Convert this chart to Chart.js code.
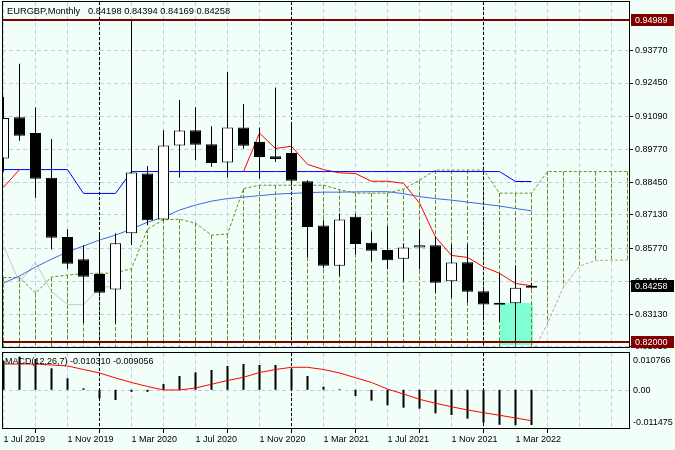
<!DOCTYPE html>
<html>
<head>
<meta charset="utf-8">
<title>EURGBP Monthly</title>
<script src="https://cdn.jsdelivr.net/npm/chart.js@4.4.1/dist/chart.umd.min.js"></script>
<style>
  html, body { margin: 0; padding: 0; background: #f2fff8; }
  #wrap { position: relative; width: 675px; height: 450px; overflow: hidden; }
  canvas { position: absolute; left: 0; }
  #priceChart { top: 0; }
  #macdChart { top: 350px; }
</style>
</head>
<body>
<div id="wrap">
  <canvas id="priceChart" width="675" height="350"></canvas>
  <canvas id="macdChart" width="675" height="100"></canvas>
</div>
<script>
// ---- data (monthly bars, Jul 2019 .. Apr 2022) ----
const symbolTitle = 'EURGBP,Monthly';
const lastBar = [0.84198, 0.84394, 0.84169, 0.84258];

const opens = [0.8941, 0.9107, 0.9043, 0.8863, 0.8624, 0.8535, 0.8475, 0.8413, 0.8639, 0.8880,
  0.8695, 0.8993, 0.9055, 0.8998, 0.8925, 0.9066, 0.9007, 0.8950, 0.8963, 0.8849,
  0.8671, 0.8508, 0.8706, 0.8601, 0.8572, 0.8537, 0.8582, 0.8591, 0.8446, 0.8523,
  0.8406, 0.8358, 0.8357, 0.84198];
const highs = [0.9189, 0.9323, 0.9146, 0.9019, 0.8656, 0.8591, 0.8639, 0.8639, 0.94989, 0.8910,
  0.9055, 0.9176, 0.9147, 0.9071, 0.9290, 0.9160, 0.9066, 0.9227, 0.9086, 0.8853,
  0.8692, 0.8719, 0.8717, 0.8645, 0.8668, 0.8598, 0.8656, 0.8625, 0.8595, 0.8595,
  0.8415, 0.8478, 0.8509, 0.84394];
const lows = [0.8887, 0.9012, 0.8782, 0.8574, 0.8496, 0.8278, 0.8385, 0.8276, 0.8592, 0.8672,
  0.8692, 0.8864, 0.8934, 0.8907, 0.8864, 0.8980, 0.8859, 0.8927, 0.8833, 0.8542,
  0.8499, 0.8467, 0.8555, 0.8527, 0.8495, 0.8447, 0.8494, 0.8400, 0.8379, 0.8359,
  0.8303, 0.8283, 0.8196, 0.84169];
const closes = [0.9104, 0.9032, 0.8859, 0.8621, 0.8516, 0.8464, 0.8400, 0.8599, 0.8884, 0.8692,
  0.8993, 0.9054, 0.8996, 0.8923, 0.9066, 0.8992, 0.8947, 0.8939, 0.8851, 0.8665,
  0.8508, 0.8695, 0.8596, 0.8569, 0.8531, 0.8582, 0.8591, 0.8440, 0.8522, 0.8404,
  0.8352, 0.8351, 0.8420, 0.84258];

// Ichimoku + moving average (null = hidden under the Kijun line)
const tenkan = [0.8825, 0.8896, null, null, null, null, null, null, null, null,
  null, null, null, null, null, 0.8888, 0.9043, 0.8981, 0.8990, 0.8917,
  0.8896, 0.8883, 0.8880, 0.8849, 0.8849, 0.8841, 0.8761, 0.8624, 0.8550, 0.8542,
  0.8504, 0.8478, 0.8437, 0.8428];
const kijun = [0.8896, 0.8896, 0.8896, 0.8896, 0.8896, 0.8800, 0.8800, 0.8800, 0.8888, 0.8888,
  0.8888, 0.8888, 0.8888, 0.8888, 0.8888, 0.8888, 0.8888, 0.8888, 0.8888, 0.8888,
  0.8888, 0.8888, 0.8888, 0.8888, 0.8888, 0.8888, 0.8888, 0.8888, 0.8888, 0.8888,
  0.8888, 0.8888, 0.8848, 0.8848];
const movingAvg = [0.8439, 0.8467, 0.8503, 0.8535, 0.8564, 0.8588, 0.8612, 0.8632, 0.8656, 0.8684,
  0.8704, 0.8733, 0.8753, 0.8769, 0.8779, 0.8785, 0.8791, 0.8797, 0.8800, 0.8803,
  0.8805, 0.8805, 0.8806, 0.8807, 0.8807, 0.8799, 0.8787, 0.8779, 0.8773, 0.8765,
  0.8757, 0.8749, 0.8739, 0.8730];
const spanA = [0.8461, 0.8461, 0.8398, 0.8463, 0.8471, 0.8477, 0.8478, 0.8479, 0.8497, 0.8656,
  0.8694, 0.8696, 0.8680, 0.8632, 0.8636, 0.8819, 0.8833, 0.8833, 0.8833, 0.8833,
  0.8833, 0.8815, 0.8801, 0.8801, 0.8801, 0.8817, 0.8853, 0.8894, 0.8894, 0.8894,
  0.8894, 0.8801, 0.8801, 0.8801, 0.8888, 0.8888, 0.8888, 0.8888, 0.8888, 0.8888];
const spanB = [0.8100, 0.8100, 0.8100, 0.8100, 0.8100, 0.8100, 0.8100, 0.8100, 0.8100, 0.8100,
  0.8100, 0.8100, 0.8100, 0.8100, 0.8100, 0.8100, 0.8100, 0.8100, 0.8100, 0.8100,
  0.8100, 0.8100, 0.8100, 0.8100, 0.8100, 0.8100, 0.8100, 0.8100, 0.8100, 0.8100,
  0.8100, 0.8100, 0.8100, 0.8150, 0.8275, 0.8423, 0.8507, 0.8529, 0.8531, 0.8531];
const chikou = [0.8590, 0.8440, 0.8522, 0.8404, 0.8352, 0.8351, 0.8420, 0.8426];

// MACD(12,26,7)
const macdHist = [0.00852, 0.00969, 0.00901, 0.00629, 0.00337, 0.00044, -0.00249, -0.00299, -0.0006, -0.0006,
  0.0017, 0.00404, 0.00512, 0.0058, 0.00697, 0.00755, 0.00726, 0.00726, 0.00617, 0.00404,
  0.00091, 0.0002, -0.00181, -0.00319, -0.00454, -0.00524, -0.00553, -0.00688, -0.00737, -0.00846,
  -0.00963, -0.01025, -0.01035, -0.01031];
const macdSignal = [0.00755, 0.00755, 0.00755, 0.00726, 0.00697, 0.00594, 0.00492, 0.00345, 0.00214, 0.00097,
  -0.00006, -0.00006, 0.00053, 0.00161, 0.00272, 0.00366, 0.00506, 0.00594, 0.00658, 0.00658,
  0.00594, 0.00492, 0.00354, 0.00214, 0.0002, -0.00123, -0.00278, -0.00395, -0.00495, -0.00591,
  -0.0067, -0.00746, -0.00825, -0.009056];

const priceTicks = [0.9377, 0.9245, 0.9109, 0.8977, 0.8845, 0.8713, 0.8577, 0.8445, 0.8313, 0.8181];
const macdTicks = [0.010766, 0, -0.011475];
const dateTickIdx = [0, 4, 8, 12, 16, 20, 24, 28, 32];
const dateLabels = ['1 Jul 2019', '1 Nov 2019', '1 Mar 2020', '1 Jul 2020', '1 Nov 2020',
  '1 Mar 2021', '1 Jul 2021', '1 Nov 2021', '1 Mar 2022'];
const yearStartIdx = [6, 18, 30];

const levelHigh = 0.94989;
const levelLow = 0.82000;
const zoneIdx = [31, 33];
const zonePrice = [0.8359, 0.8189];

// ---- look ----
const BG = '#f2fff8';
const GRID = '#c6cbe6';
const OLIVE = '#6b8e23';
const ROSY = '#c49a9a';
const MAROON = '#800000';
const FONT = '"Liberation Sans", Arial, sans-serif';

const xMin = -0.09375, xMax = 39.15625;
const priceMin = 0.81769, priceMax = 0.95715;

Chart.defaults.font.family = FONT;
Chart.defaults.font.size = 9;
Chart.defaults.color = '#000';

const series = arr => arr.map((v, i) => ({ x: i, y: v }));

function lineSet(arr, color, order, dash) {
  return {
    type: 'line', data: series(arr), borderColor: color, borderWidth: 1,
    borderDash: dash || [], pointRadius: 0, tension: 0, fill: false, spanGaps: false, order: order
  };
}

function vline(ctx, x, top, bottom) {
  const px = Math.floor(x) + 0.5;
  ctx.beginPath();
  ctx.moveTo(px, top);
  ctx.lineTo(px, bottom);
  ctx.stroke();
}

function clipTo(ctx, a) {
  ctx.beginPath();
  ctx.rect(a.left, a.top, a.width, a.height);
  ctx.clip();
}

const pricePlugin = {
  id: 'mtPrice',
  beforeDraw(chart) {
    const { ctx, scales: { x, y } } = chart;
    ctx.save();
    ctx.fillStyle = BG;
    ctx.fillRect(0, 0, chart.width, chart.height);
    const x0 = x.getPixelForValue(zoneIdx[0]), x1 = x.getPixelForValue(zoneIdx[1]);
    const y0 = y.getPixelForValue(zonePrice[0]), y1 = y.getPixelForValue(zonePrice[1]);
    ctx.fillStyle = '#7fffd4';
    ctx.fillRect(Math.round(x0), Math.round(y0), Math.round(x1 - x0) + 1, Math.round(y1 - y0));
    ctx.restore();
  },
  beforeDatasetsDraw(chart) {
    const { ctx, chartArea: a, scales: { x, y } } = chart;
    ctx.save();
    clipTo(ctx, a);
    ctx.lineWidth = 1;
    // vertical grid every two months
    ctx.strokeStyle = GRID;
    ctx.setLineDash([4, 3]);
    for (let i = 0; i <= xMax; i += 2) vline(ctx, x.getPixelForValue(i), a.top, a.bottom);
    // cloud hatch
    ctx.strokeStyle = OLIVE;
    ctx.setLineDash([4, 2]);
    spanA.forEach((v, i) => {
      const ya = y.getPixelForValue(v), yb = y.getPixelForValue(spanB[i]);
      vline(ctx, x.getPixelForValue(i), Math.min(ya, yb), Math.max(ya, yb));
    });
    // year separators
    ctx.strokeStyle = '#000';
    ctx.setLineDash([3, 2]);
    yearStartIdx.forEach(i => vline(ctx, x.getPixelForValue(i), a.top, a.bottom));
    ctx.restore();
  },
  afterDraw(chart) {
    const { ctx, chartArea: a, scales: { y } } = chart;
    ctx.save();
    // horizontal levels
    ctx.fillStyle = MAROON;
    [levelHigh, levelLow].forEach(v => {
      const py = Math.round(y.getPixelForValue(v));
      ctx.fillRect(a.left, py - 1, a.width, 2);
    });
    // frame
    ctx.strokeStyle = '#000';
    ctx.lineWidth = 1;
    ctx.strokeRect(a.left + 0.5, a.top - 0.5, a.width - 1, a.height);
    // header
    ctx.font = '9.3px ' + FONT;
    ctx.fillStyle = '#000';
    ctx.textBaseline = 'middle';
    ctx.textAlign = 'left';
    ctx.fillText(symbolTitle + '   ' + lastBar.map(v => v.toFixed(5)).join(' '), 7, 11);
    // price boxes on the axis
    ctx.font = '9px ' + FONT;
    [[levelHigh, MAROON], [lastBar[3], '#000000'], [levelLow, MAROON]].forEach(([v, c]) => {
      const py = Math.round(y.getPixelForValue(v));
      ctx.fillStyle = c;
      ctx.fillRect(a.right + 1, py - 6, 43, 12);
      ctx.fillStyle = '#ffffff';
      ctx.fillText(v.toFixed(5), a.right + 5, py + 0.5);
    });
    ctx.restore();
  }
};

const macdPlugin = {
  id: 'mtMacd',
  beforeDraw(chart) {
    const { ctx } = chart;
    ctx.save();
    ctx.fillStyle = BG;
    ctx.fillRect(0, 0, chart.width, chart.height);
    ctx.restore();
  },
  beforeDatasetsDraw(chart) {
    const { ctx, chartArea: a, scales: { x, y } } = chart;
    ctx.save();
    clipTo(ctx, a);
    ctx.lineWidth = 1;
    ctx.strokeStyle = GRID;
    ctx.setLineDash([4, 3]);
    for (let i = 0; i <= xMax; i += 2) vline(ctx, x.getPixelForValue(i), a.top, a.bottom);
    const y0 = Math.round(y.getPixelForValue(0)) + 0.5;
    ctx.beginPath();
    ctx.moveTo(a.left, y0);
    ctx.lineTo(a.right, y0);
    ctx.stroke();
    ctx.strokeStyle = '#000';
    ctx.setLineDash([3, 2]);
    yearStartIdx.forEach(i => vline(ctx, x.getPixelForValue(i), a.top, a.bottom));
    ctx.restore();
  },
  afterDraw(chart) {
    const { ctx, chartArea: a, scales: { y } } = chart;
    ctx.save();
    ctx.strokeStyle = '#000';
    ctx.lineWidth = 1;
    ctx.strokeRect(a.left + 0.5, a.top - 0.5, a.width - 1, a.height);
    ctx.font = '9px ' + FONT;
    ctx.fillStyle = '#000';
    ctx.textBaseline = 'middle';
    const last = macdHist.length - 1;
    ctx.fillText('MACD(12,26,7) ' + macdHist[last].toFixed(6) + ' ' + macdSignal[last].toFixed(6), 5, 12);
    macdTicks.forEach(v => {
      let py = y.getPixelForValue(v);
      py = Math.min(Math.max(py, a.top + 7), a.bottom - 7);
      ctx.fillText(v === 0 ? '0.00' : v.toFixed(6), a.right + 3, py + 0.5);
    });
    ctx.restore();
  }
};

new Chart(document.getElementById('priceChart'), {
  type: 'bar',
  data: {
    datasets: [
      {
        label: 'Bodies',
        data: opens.map((o, i) => ({ x: i, y: [o, closes[i]] })),
        backgroundColor: closes.map((c, i) => c >= opens[i] ? '#ffffff' : '#000000'),
        borderColor: '#000000', borderWidth: 1, borderSkipped: false,
        barThickness: 11, minBarLength: 2, inflateAmount: 0, grouped: false, clip: 0, order: 0
      },
      {
        label: 'Wicks',
        data: lows.map((l, i) => ({ x: i, y: [l, highs[i]] })),
        backgroundColor: '#000000', borderWidth: 0,
        barThickness: 1, inflateAmount: 0, grouped: false, clip: 0, order: 1
      },
      lineSet(kijun, '#0000ff', 2),
      lineSet(tenkan, '#ff0000', 3),
      lineSet(movingAvg, '#4169e1', 4),
      lineSet(chikou, '#c8c8c8', 5),
      lineSet(spanA, OLIVE, 6, [3, 2]),
      lineSet(spanB, ROSY, 7, [3, 2])
    ]
  },
  options: {
    responsive: false,
    animation: false,
    devicePixelRatio: 1,
    events: [],
    layout: { padding: { left: 2, top: 2, right: 0, bottom: 2 } },
    plugins: { legend: { display: false }, tooltip: { enabled: false } },
    scales: {
      x: { type: 'linear', min: xMin, max: xMax, offset: false, display: false },
      y: {
        type: 'linear', position: 'right', min: priceMin, max: priceMax,
        afterBuildTicks: s => { s.ticks = priceTicks.map(v => ({ value: v })); },
        afterFit: s => { s.width = 45; s.paddingTop = 0; s.paddingBottom = 0; },
        ticks: { autoSkip: false, padding: 2, callback: v => v.toFixed(5) },
        grid: { color: GRID, tickColor: '#000', tickLength: 3 },
        border: { display: false, dash: [4, 3] }
      }
    }
  },
  plugins: [pricePlugin]
});

new Chart(document.getElementById('macdChart'), {
  type: 'bar',
  data: {
    datasets: [
      {
        type: 'line', label: 'Signal', data: series(macdSignal),
        borderColor: '#ff0000', borderWidth: 1, pointRadius: 0, tension: 0, order: 0
      },
      {
        label: 'MACD', data: series(macdHist),
        backgroundColor: '#000000', borderWidth: 0,
        barThickness: 2, inflateAmount: 0, grouped: false, clip: 0, order: 1
      }
    ]
  },
  options: {
    responsive: false,
    animation: false,
    devicePixelRatio: 1,
    events: [],
    layout: { padding: { left: 2, top: 3, right: 0, bottom: 0 } },
    plugins: { legend: { display: false }, tooltip: { enabled: false } },
    scales: {
      x: {
        type: 'linear', min: xMin, max: xMax, offset: false, position: 'bottom',
        afterBuildTicks: s => { s.ticks = dateTickIdx.map(v => ({ value: v })); },
        afterFit: s => { s.height = 21; s.paddingLeft = 0; s.paddingRight = 0; },
        ticks: {
          autoSkip: false, maxRotation: 0, align: 'start', padding: 1,
          callback: v => dateLabels[dateTickIdx.indexOf(v)]
        },
        grid: { drawOnChartArea: false, tickColor: '#000', tickLength: 4 },
        border: { display: false }
      },
      y: {
        type: 'linear', position: 'right', min: macdTicks[2], max: macdTicks[0],
        afterFit: s => { s.width = 45; s.paddingTop = 0; s.paddingBottom = 0; },
        ticks: { display: false },
        grid: { display: false },
        border: { display: false }
      }
    }
  },
  plugins: [macdPlugin]
});
</script>
</body>
</html>
